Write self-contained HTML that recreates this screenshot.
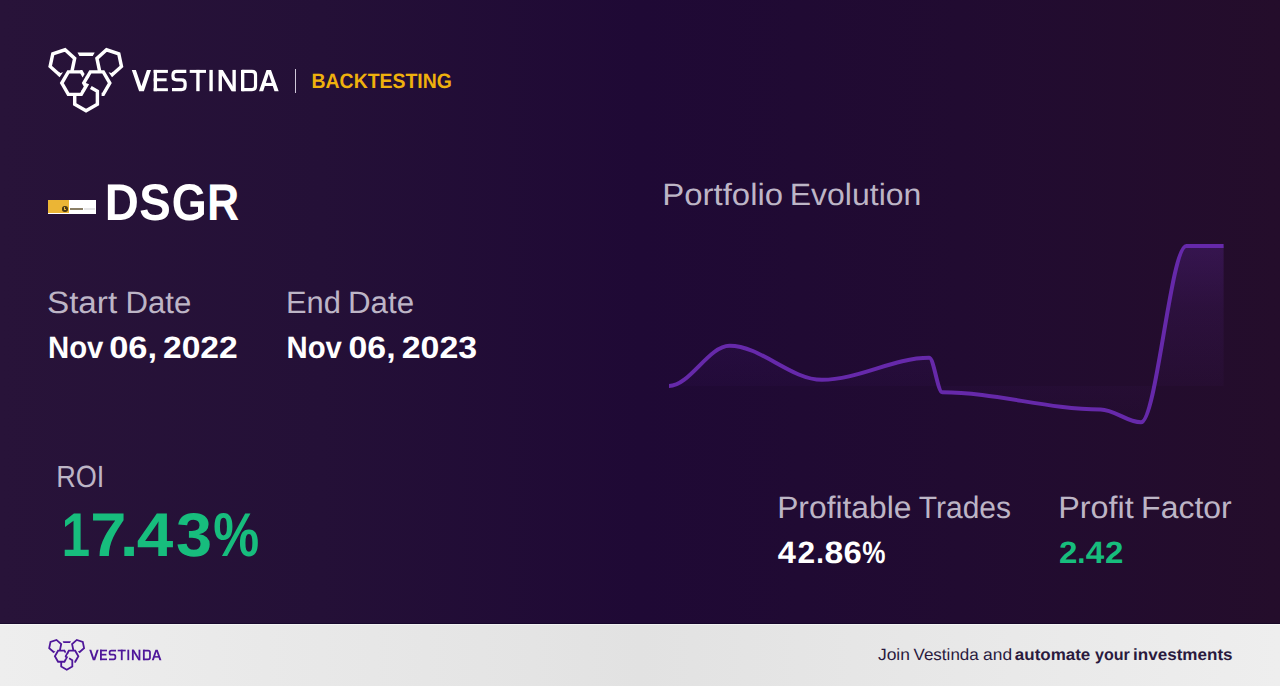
<!DOCTYPE html>
<html lang="en">
<head>
<meta charset="utf-8">
<title>DSGR Backtesting - Vestinda</title>
<style>
html,body{margin:0;padding:0;}
body{width:1280px;height:686px;overflow:hidden;position:relative;font-family:"Liberation Sans",sans-serif;background:#220c30;}
.card{position:absolute;left:0;top:0;width:1280px;height:624px;background:linear-gradient(90deg,#281339 0%,#241037 25%,#1f0935 50%,#210b31 75%,#240d2b 100%);}
.footer{position:absolute;left:0;top:624px;width:1280px;height:62px;background:linear-gradient(90deg,#eeeeee 0%,#e2e2e2 50%,#eeeeee 100%);}
.card .edge{position:absolute;left:0;bottom:0;width:100%;height:1px;background:rgba(8,0,30,0.42);}
.footer .edge{position:absolute;left:0;top:0;width:100%;height:1px;background:rgba(255,255,255,0.5);}
.g{position:absolute;font-size:0;line-height:0;white-space:nowrap;text-rendering:geometricPrecision;}
.b{font-weight:bold;}
.t{display:inline-block;vertical-align:baseline;font-size:var(--fs);line-height:1;white-space:nowrap;transform-origin:0 0;}
svg{position:absolute;left:0;top:0;}
.divider{position:absolute;left:295px;top:69px;width:1px;height:24px;background:#cfc7d8;}
.co{position:absolute;left:48px;top:200px;width:48px;height:14px;background:#ffffff;overflow:hidden;}
.co .y{position:absolute;left:0;top:0;width:21px;height:12.5px;background:#ebb535;}
.co .c{position:absolute;left:14.2px;top:6.2px;width:5.4px;height:5.4px;border-radius:50%;background:#4a3a14;}
.co .c i{position:absolute;left:2.1px;top:1.2px;width:2.2px;height:2.2px;border-left:0.9px solid #ebb535;border-bottom:0.9px solid #ebb535;box-sizing:border-box;}
.co .n{position:absolute;left:22.2px;top:8.1px;width:12.4px;height:1.7px;background:#8a7f66;}
.co .p{position:absolute;left:35.8px;top:8.1px;width:11.2px;height:1.7px;background:#e6e6e6;}
</style>
</head>
<body>
<div class="card"><div class="edge"></div></div>
<div class="footer"><div class="edge"></div></div>
<svg width="1280" height="686" viewBox="0 0 1280 686">
<defs>
<linearGradient id="ag" gradientUnits="userSpaceOnUse" x1="0" y1="244" x2="0" y2="430">
<stop offset="0" stop-color="#6a2cb0" stop-opacity="0.27"/>
<stop offset="0.35" stop-color="#6a2cb0" stop-opacity="0.12"/>
<stop offset="0.76" stop-color="#6a2cb0" stop-opacity="0.04"/>
<stop offset="1" stop-color="#6a2cb0" stop-opacity="0"/>
</linearGradient>
</defs>
<path d="M669.0,386.0 C689.6,386.0 708.9,345.7 729.5,345.7 C761.0,345.7 790.5,379.8 822.0,379.8 C858.5,379.8 892.8,357.8 929.3,357.8 C933.7,357.8 937.8,392.3 942.2,392.3 C996.1,392.3 1046.7,409.4 1100.6,409.4 C1114.3,409.4 1127.3,422.3 1141.0,422.3 C1156.4,422.3 1170.9,245.9 1186.3,245.9 C1199.0,245.9 1210.9,245.9 1223.6,245.9 L1223.6,386 L669.0,386 Z" fill="url(#ag)" stroke="none"/>
<path d="M669.0,386.0 C689.6,386.0 708.9,345.7 729.5,345.7 C761.0,345.7 790.5,379.8 822.0,379.8 C858.5,379.8 892.8,357.8 929.3,357.8 C933.7,357.8 937.8,392.3 942.2,392.3 C996.1,392.3 1046.7,409.4 1100.6,409.4 C1114.3,409.4 1127.3,422.3 1141.0,422.3 C1156.4,422.3 1170.9,245.9 1186.3,245.9 C1199.0,245.9 1210.9,245.9 1223.6,245.9" fill="none" stroke="#6629aa" stroke-width="4" stroke-linejoin="round" stroke-linecap="butt"/>
<g fill="none" stroke="#ffffff" stroke-width="3.45" stroke-linejoin="miter" stroke-linecap="butt">
<polyline points="59.14,74.49 50.14,66.41 52.80,53.78 65.06,49.78 74.66,58.39 72.00,71.02 72.00,71.85"/><polyline points="112.46,74.49 121.46,66.41 118.80,53.78 106.54,49.78 96.94,58.39 99.60,71.02 99.60,71.85"/>
<polyline points="81.30,71.85 68.30,71.85 61.80,83.11 68.30,94.37 81.30,94.37 83.53,90.50"/><polyline points="87.04,77.50 90.30,71.85 103.30,71.85 109.80,83.11 103.30,94.37 101.60,94.37"/><polyline points="90.81,87.40 97.39,91.20 97.39,104.30 86.05,110.85 74.71,104.30 74.71,94.37"/>
<polygon points="85.62,76.50 81.81,83.11 83.81,86.57 80.96,91.50 84.95,91.50 89.10,84.31 85.79,83.11 89.61,76.50" fill="#ffffff" stroke="none"/><polygon points="80.30,70.12 82.30,70.12 84.60,74.11 82.60,77.56 80.30,73.57 80.30,73.57" fill="#ffffff" stroke="none"/>
<polygon points="58.66,71.74 60.15,73.07 63.00,72.29 59.60,77.21 57.84,75.64" fill="#ffffff" stroke="none"/><polygon points="112.94,71.74 111.45,73.07 108.60,72.29 112.00,77.21 113.76,75.64" fill="#ffffff" stroke="none"/>
<polygon points="77.5,52.45 94.7,52.45 92.8,55.9 79.4,55.9" fill="#ffffff" stroke="none"/></g>
<g fill="#ffffff" stroke="none" role="img" aria-label="VESTINDA"><polygon points="131.80,69.90 135.90,69.90 141.40,86.20 146.90,69.90 151.00,69.90 143.90,91.20 139.10,91.20"/><rect x="153.70" y="69.90" width="3.35" height="21.30"/><rect x="153.70" y="69.90" width="14.20" height="3.00"/><rect x="153.70" y="78.30" width="12.90" height="3.00"/><rect x="153.70" y="88.20" width="14.20" height="3.00"/><path fill="none" stroke="#ffffff" stroke-width="3.175" d="M186.3,71.4 H176.57500000000002 Q172.97500000000002,71.4 172.97500000000002,75.0 V76.2 Q172.97500000000002,79.8 176.57500000000002,79.8 H181.525 Q185.125,79.8 185.125,83.39999999999999 V86.10000000000001 Q185.125,89.7 181.525,89.7 H172.0"/><rect x="189.70" y="69.90" width="16.30" height="3.00"/><rect x="196.27" y="69.90" width="3.35" height="21.30"/><rect x="209.40" y="69.90" width="3.35" height="21.30"/><rect x="218.60" y="69.90" width="3.35" height="21.30"/><rect x="232.45" y="69.90" width="3.35" height="21.30"/><polygon points="218.60,69.90 222.80,69.90 235.80,91.20 231.60,91.20"/><rect x="241.00" y="69.90" width="3.35" height="21.30"/><path fill="none" stroke="#ffffff" stroke-width="3.175" d="M242.0,71.4 H251.92499999999998 Q255.52499999999998,71.4 255.52499999999998,75.0 V86.10000000000001 Q255.52499999999998,89.7 251.92499999999998,89.7 H242.0"/><polygon points="259.00,91.20 266.50,69.90 271.00,69.90 278.70,91.20 274.50,91.20 268.75,73.90 263.20,91.20"/><rect x="264.00" y="82.90" width="9.60" height="3.10"/></g>
<g transform="translate(24.68 615.58) scale(0.489)" fill="none" stroke="#4f179a" stroke-width="3.7" stroke-linejoin="miter" stroke-linecap="butt">
<polyline points="59.14,74.49 50.14,66.41 52.80,53.78 65.06,49.78 74.66,58.39 72.00,71.02 72.00,71.85"/><polyline points="112.46,74.49 121.46,66.41 118.80,53.78 106.54,49.78 96.94,58.39 99.60,71.02 99.60,71.85"/>
<polyline points="81.30,71.85 68.30,71.85 61.80,83.11 68.30,94.37 81.30,94.37 83.53,90.50"/><polyline points="87.04,77.50 90.30,71.85 103.30,71.85 109.80,83.11 103.30,94.37 101.60,94.37"/><polyline points="90.81,87.40 97.39,91.20 97.39,104.30 86.05,110.85 74.71,104.30 74.71,94.37"/>
<polygon points="85.62,76.50 81.81,83.11 83.81,86.57 80.96,91.50 84.95,91.50 89.10,84.31 85.79,83.11 89.61,76.50" fill="#4f179a" stroke="none"/><polygon points="80.30,70.12 82.30,70.12 84.60,74.11 82.60,77.56 80.30,73.57 80.30,73.57" fill="#4f179a" stroke="none"/>
<polygon points="58.66,71.74 60.15,73.07 63.00,72.29 59.60,77.21 57.84,75.64" fill="#4f179a" stroke="none"/><polygon points="112.94,71.74 111.45,73.07 108.60,72.29 112.00,77.21 113.76,75.64" fill="#4f179a" stroke="none"/>
<polygon points="77.5,52.45 94.7,52.45 92.8,55.9 79.4,55.9" fill="#4f179a" stroke="none"/></g>
<g transform="translate(24.47 615.34) scale(0.4915)" fill="#4f179a" stroke="none" role="img" aria-label="VESTINDA"><polygon points="131.80,69.90 135.90,69.90 141.40,86.20 146.90,69.90 151.00,69.90 143.90,91.20 139.10,91.20"/><rect x="153.70" y="69.90" width="3.70" height="21.30"/><rect x="153.70" y="69.90" width="14.20" height="3.40"/><rect x="153.70" y="78.30" width="12.90" height="3.40"/><rect x="153.70" y="87.80" width="14.20" height="3.40"/><path fill="none" stroke="#4f179a" stroke-width="3.55" d="M186.3,71.60000000000001 H176.75 Q173.15,71.60000000000001 173.15,75.2 V76.4 Q173.15,80.0 176.75,80.0 H181.35000000000002 Q184.95000000000002,80.0 184.95000000000002,83.6 V85.9 Q184.95000000000002,89.5 181.35000000000002,89.5 H172.0"/><rect x="189.70" y="69.90" width="16.30" height="3.40"/><rect x="196.10" y="69.90" width="3.70" height="21.30"/><rect x="209.40" y="69.90" width="3.70" height="21.30"/><rect x="218.60" y="69.90" width="3.70" height="21.30"/><rect x="232.10" y="69.90" width="3.70" height="21.30"/><polygon points="218.60,69.90 222.80,69.90 235.80,91.20 231.60,91.20"/><rect x="241.00" y="69.90" width="3.70" height="21.30"/><path fill="none" stroke="#4f179a" stroke-width="3.55" d="M242.0,71.60000000000001 H251.75 Q255.35,71.60000000000001 255.35,75.2 V85.9 Q255.35,89.5 251.75,89.5 H242.0"/><polygon points="259.00,91.20 266.50,69.90 271.00,69.90 278.70,91.20 274.50,91.20 268.75,73.90 263.20,91.20"/><rect x="264.00" y="82.90" width="9.60" height="3.10"/></g>
</svg>
<div class="divider"></div>
<div class="co"><div class="y"></div><div class="c"><i></i></div><div class="n"></div><div class="p"></div></div>
<div class="g b" id="bt" style="left:311px;top:72.41px;color:#efb10d;--fs:20.78px"><span class="t" id="bt_0" style="transform:translateX(0.58px) scaleX(0.9346)">BACKTESTING</span></div>
<div class="g b" id="tick" style="left:104px;top:176.52px;color:#ffffff;--fs:51.60px"><span class="t" id="tick_0" style="width:35px;transform:translateX(0.65px) scaleX(0.9152)">D</span><span class="t" id="tick_1" style="width:32px;transform:translateX(0.23px) scaleX(0.9178)">S</span><span class="t" id="tick_2" style="width:36px;transform:translateX(0.85px) scaleX(0.8717)">G</span><span class="t" id="tick_3" style="transform:translateX(0.02px) scaleX(0.8645)">R</span></div>
<div class="g" id="sdl" style="left:46px;top:287.99px;color:#bdb5c6;--fs:30.96px"><span class="t" id="sdl_0" style="width:79px;transform:translateX(0.96px) scaleX(1.0738)">Start</span> <span class="t" id="sdl_1" style="transform:translateX(0.54px) scaleX(1.0066)">Date</span></div>
<div class="g b" id="sdv" style="left:47px;top:332.79px;color:#ffffff;--fs:30.96px"><span class="t" id="sdv_0" style="width:62px;transform:translateX(0.97px) scaleX(0.9483)">Nov</span> <span class="t" id="sdv_1" style="width:53px;transform:translateX(0.18px) scaleX(1.1144)">06,</span> <span class="t" id="sdv_2" style="transform:translateX(0.96px) scaleX(1.0866)">2022</span></div>
<div class="g" id="edl" style="left:285px;top:287.99px;color:#bdb5c6;--fs:30.96px"><span class="t" id="edl_0" style="width:62px;transform:translateX(0.98px) scaleX(0.9972)">End</span> <span class="t" id="edl_1" style="transform:translateX(0.98px) scaleX(1.0105)">Date</span></div>
<div class="g b" id="edv" style="left:286px;top:332.79px;color:#ffffff;--fs:30.96px"><span class="t" id="edv_0" style="width:62px;transform:translateX(0.56px) scaleX(0.9462)">Nov</span> <span class="t" id="edv_1" style="width:53px;transform:translateX(0.51px) scaleX(1.0938)">06,</span> <span class="t" id="edv_2" style="transform:translateX(0.69px) scaleX(1.0958)">2023</span></div>
<div class="g" id="roil" style="left:56px;top:462.04px;color:#bdb5c6;--fs:30.67px"><span class="t" id="roil_0" style="transform:translateX(0.16px) scaleX(0.8841)">ROI</span></div>
<div class="g b" id="roiv" style="left:61px;top:505.01px;color:#17bd7d;--fs:61.77px"><span class="t" id="roiv_0" style="width:29px;transform:translateX(0.61px) scaleX(0.8339)">1</span><span class="t" id="roiv_1" style="width:29px;transform:translateX(0.14px) scaleX(1.0513)">7</span><span class="t" id="roiv_2" style="width:17px;transform:translateX(0.73px) scaleX(1.0973)">.</span><span class="t" id="roiv_3" style="width:40px;transform:translateX(0.73px) scaleX(1.0632)">4</span><span class="t" id="roiv_4" style="width:37px;transform:translateX(0.05px) scaleX(1.0488)">3</span><span class="t" id="roiv_5" style="transform:translateX(0.18px) scaleX(0.8363)">%</span></div>
<div class="g" id="pe" style="left:662px;top:180.02px;color:#bdb5c6;--fs:30.81px"><span class="t" id="pe_0" style="width:127px;transform:translateX(0.34px) scaleX(1.0690)">Portfolio</span> <span class="t" id="pe_1" style="transform:translateX(0.76px) scaleX(1.0383)">Evolution</span></div>
<div class="g" id="ptl" style="left:777px;top:492.89px;color:#bdb5c6;--fs:30.96px"><span class="t" id="ptl_0" style="width:141px;transform:translateX(0.17px) scaleX(1.0268)">Profitable</span> <span class="t" id="ptl_1" style="transform:translateX(0.75px) scaleX(0.9690)">Trades</span></div>
<div class="g b" id="ptv" style="left:777px;top:537.79px;color:#ffffff;--fs:30.96px"><span class="t" id="ptv_0" style="width:20px;transform:translateX(0.79px) scaleX(1.0548)">4</span><span class="t" id="ptv_1" style="width:19px;transform:translateX(0.43px) scaleX(1.0224)">2</span><span class="t" id="ptv_2" style="width:8px;transform:translateX(0.14px) scaleX(0.8857)">.</span><span class="t" id="ptv_3" style="width:19px;transform:translateX(0.55px) scaleX(1.0881)">8</span><span class="t" id="ptv_4" style="width:19px;transform:translateX(0.45px) scaleX(1.0610)">6</span><span class="t" id="ptv_5" style="transform:translateX(0.26px) scaleX(0.8441)">%</span></div>
<div class="g" id="pfl" style="left:1058px;top:492.89px;color:#bdb5c6;--fs:30.96px"><span class="t" id="pfl_0" style="width:83px;transform:translateX(0.20px) scaleX(1.0449)">Profit</span> <span class="t" id="pfl_1" style="transform:translateX(0.10px) scaleX(1.0327)">Factor</span></div>
<div class="g b" id="pfv" style="left:1059px;top:537.79px;color:#17bd7d;--fs:30.96px"><span class="t" id="pfv_0" style="width:18px;transform:translateX(0.02px) scaleX(1.0700)">2</span><span class="t" id="pfv_1" style="width:8px;transform:translateX(0.31px) scaleX(0.9504)">.</span><span class="t" id="pfv_2" style="width:20px;transform:translateX(0.66px) scaleX(1.0722)">4</span><span class="t" id="pfv_3" style="transform:translateX(0.02px) scaleX(1.0698)">2</span></div>
<div class="g" id="f1" style="left:877px;top:647.17px;color:#2a1a3e;--fs:16.28px"><span class="t" id="f1_0" style="width:36px;transform:translateX(0.90px) scaleX(1.0730)">Join</span> <span class="t" id="f1_1" style="width:70px;transform:translateX(0.49px) scaleX(1.0462)">Vestinda</span> <span class="t" id="f1_2" style="transform:translateX(0.05px) scaleX(1.0687)">and</span></div>
<div class="g b" id="f2" style="left:1014px;top:647.17px;color:#2a1a3e;--fs:16.28px"><span class="t" id="f2_0" style="width:81px;transform:translateX(0.85px) scaleX(1.0436)">automate</span> <span class="t" id="f2_1" style="width:38px;transform:translateX(0.02px) scaleX(0.9884)">your</span> <span class="t" id="f2_2" style="transform:translateX(0.08px) scaleX(1.0480)">investments</span></div>
</body>
</html>
